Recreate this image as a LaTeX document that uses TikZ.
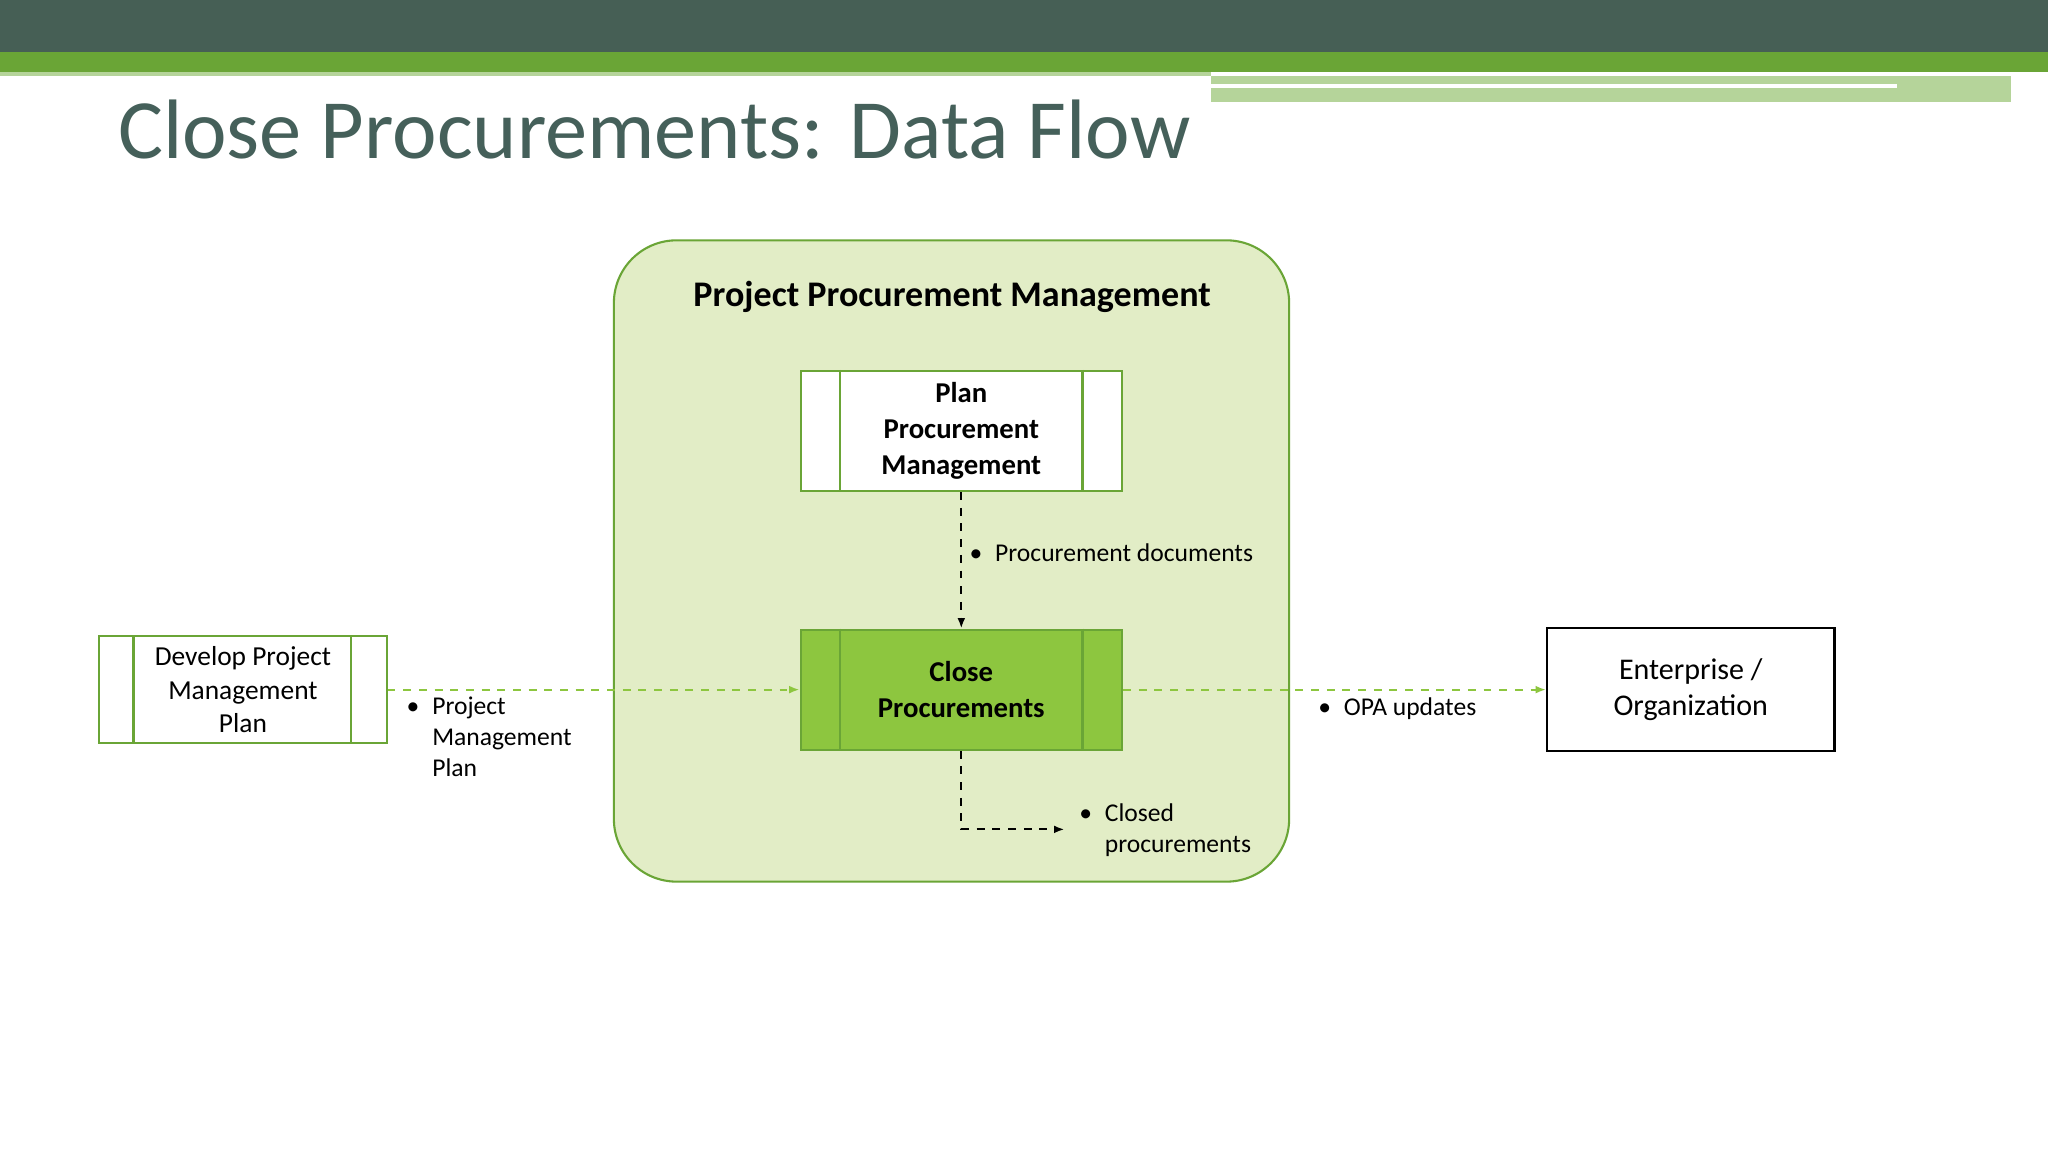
\documentclass[tikz,border=0pt]{standalone}
\usepackage{fontspec}
\setmainfont{Carlito}
\usetikzlibrary{positioning,arrows.meta}
\definecolor{dk}{HTML}{465F55}
\definecolor{gr}{HTML}{6AA536}
\definecolor{lg}{HTML}{B5D49A}
\definecolor{pale}{HTML}{E2EDC6}
\definecolor{fillg}{HTML}{8DC63F}
\definecolor{tt}{HTML}{45605A}
\tikzset{
  proc/.style={draw=gr,thick,minimum width=123pt,minimum height=46pt,align=center,font=\fontsize{11}{13.8}\selectfont\bfseries},
  side/.style={draw=gr,thick,minimum width=110pt,minimum height=41pt,align=center,font=\fontsize{10.5}{12.8}\selectfont},
  lbl/.style={align=left,anchor=north west,inner sep=0pt,font=\fontsize{9.8}{12}\selectfont},
  flowk/.style={dashed,thick,-{Latex[length=4pt]}},
  flowg/.style={dashed,thick,draw=fillg,-{Latex[length=4pt]}}
}
\begin{document}
\begin{tikzpicture}[x=0.5pt,y=-0.5pt]
  \useasboundingbox (0,0) rectangle (1568,882);
  \fill[white] (0,0) rectangle (1568,882);
  % banner
  \fill[dk] (0,0) rectangle (1568,40);
  \fill[gr] (0,40) rectangle (1568,55);
  \fill[lg] (0,55) rectangle (927,58);
  \fill[lg] (927,58) rectangle (1540,78);
  \draw[white,line width=1.5pt] (927,66) -- (1452,66);
  \node[anchor=base west,text=tt,font=\fontsize{32.3}{34}\selectfont,inner sep=0pt] (title) at (90,121) {Close Procurements: Data Flow};
  % group
  \draw[gr,thick,fill=pale,rounded corners=24pt] (470,184) rectangle (987,675);
  \node[font=\fontsize{13.8}{15}\selectfont\bfseries] (group) at (729,227) {Project Procurement Management};
  % processes
  \node[proc,fill=white] (plan) at (736,330) {Plan\\Procurement\\Management};
  \draw[gr,thick] ([xshift=15.5pt]plan.north west) -- ([xshift=15.5pt]plan.south west);
  \draw[gr,thick] ([xshift=-15.5pt]plan.north east) -- ([xshift=-15.5pt]plan.south east);
  \node[proc,fill=fillg] (close) at (736,528) {Close\\Procurements};
  \draw[gr,thick] ([xshift=15.5pt]close.north west) -- ([xshift=15.5pt]close.south west);
  \draw[gr,thick] ([xshift=-15.5pt]close.north east) -- ([xshift=-15.5pt]close.south east);
  \node[side,fill=white] (dev) at (186,528) {Develop Project\\Management\\Plan};
  \draw[gr,thick] ([xshift=13.5pt]dev.north west) -- ([xshift=13.5pt]dev.south west);
  \draw[gr,thick] ([xshift=-14pt]dev.north east) -- ([xshift=-14pt]dev.south east);
  \node[side,draw=black,minimum height=47pt,font=\fontsize{11.5}{13.8}\selectfont] (ent) at (1294.5,528) {Enterprise /\\Organization};
  % flows
  \draw[flowk] (plan) -- (close);
  \draw[flowg] (dev) -- (close);
  \draw[flowg] (close) -- (ent);
  \coordinate (bend) at (736,635);
  \coordinate (out) at (815,635);
  \draw[flowk] (close.south) -- (bend) -- (out);
  % labels
  \node[lbl] (l1) at (742,416) {•\enspace Procurement documents};
  \node[lbl] (l2) at (311,533) {•\enspace Project\\\phantom{•\enspace}Management\\\phantom{•\enspace}Plan};
  \node[lbl] (l3) at (1009,534) {•\enspace OPA updates};
  \node[lbl] (l4) at (826,615) {•\enspace Closed\\\phantom{•\enspace}procurements};
\end{tikzpicture}
\end{document}
